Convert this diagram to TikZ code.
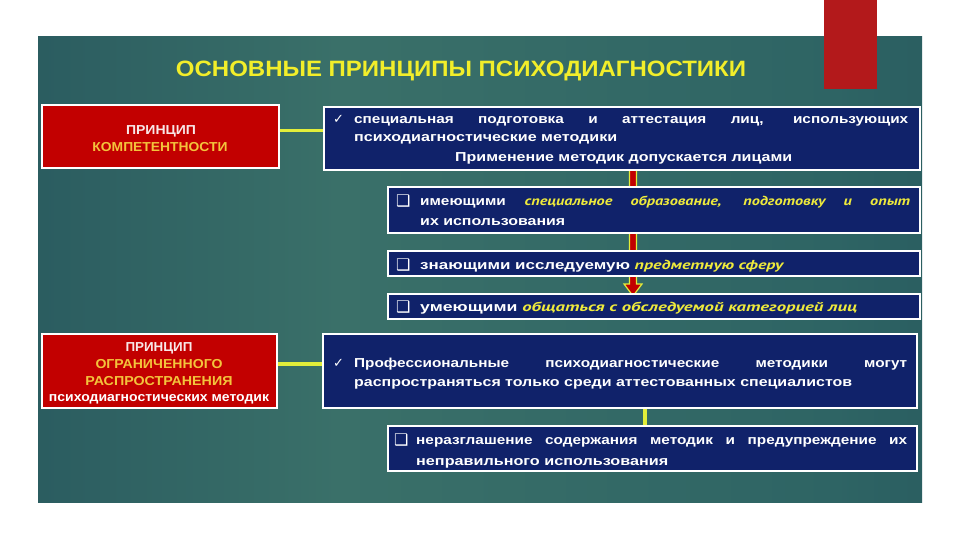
\documentclass[tikz,border=0pt]{standalone}
\usepackage{fontspec}
\setmainfont{Liberation Sans}
\newfontfamily\bodyf{Liberation Sans}[FakeStretch=1.18]
\newfontfamily\symf{DejaVu Sans}
\newfontfamily\ptit{PT Sans}[FakeStretch=1.25]
\usetikzlibrary{calc}
\definecolor{pA}{HTML}{1A4352}
\definecolor{pB}{HTML}{22515B}
\definecolor{pC}{HTML}{3A7069}
\definecolor{pD}{HTML}{2E6464}
\definecolor{navy}{HTML}{10226A}
\definecolor{redc}{HTML}{C20000}
\definecolor{barred}{HTML}{B3191B}
\definecolor{yconnc}{HTML}{E2EE3A}
\definecolor{titley}{HTML}{F2EE2A}
\definecolor{yit}{HTML}{EEEA3C}
\definecolor{orng}{HTML}{F3C43C}
\definecolor{pinkw}{HTML}{F8E8E8}
\pgfdeclarehorizontalshading{panelsh}{100bp}{color(0bp)=(pA); color(15bp)=(pB); color(42bp)=(pC); color(70bp)=(pD); color(100bp)=(pA)}
\pgfdeclarelayer{panel}
\pgfdeclarelayer{bg}
\pgfsetlayers{panel,bg,main}
\newcommand{\fitw}[2]{\resizebox{#1}{\height}{#2}}
\newcommand{\yi}[1]{\textcolor{yit}{\ptit\bfseries\itshape #1}}
\tikzset{
  bluebox/.style={draw=white, line width=1.8pt, fill=navy, inner sep=0pt, outer sep=0pt, anchor=north west},
  redbox/.style={draw=white, line width=1.8pt, fill=redc, inner sep=0pt, outer sep=0pt, anchor=north west},
  txt/.style={inner sep=0pt, text=white, font=\bodyf\fontsize{13}{15}\selectfont\bfseries, anchor=base west},
  rtxt/.style={inner sep=0pt, font=\fontsize{13}{15}\selectfont\bfseries, anchor=base},
  symb/.style={inner sep=0pt, text=white, font=\symf\fontsize{13}{15}\selectfont, anchor=base west},
  sqb/.style={inner sep=0pt, text=white, font=\symf\fontsize{16}{18}\selectfont, anchor=base west},
  yconn/.style={draw=yconnc, line width=3.5pt},
  arr/.style={fill=redc, draw=yconnc, line width=1.2pt, line join=miter}
}
\begin{document}
\begin{tikzpicture}[x=1pt,y=-1pt]
\useasboundingbox (0,0) rectangle (960,540);
\begin{pgfonlayer}{panel}
\fill[white] (0,0) rectangle (960,540);
\shade[shading=panelsh] (38,37) rectangle (922,502);
\end{pgfonlayer}
\fill[barred] (824,0) rectangle (877,89);
\node[inner sep=0pt, anchor=base, text=titley, font=\fontsize{22}{24}\selectfont\bfseries] (title) at (461,77)
  {\resizebox{570pt}{15.5pt}{ОСНОВНЫЕ ПРИНЦИПЫ ПСИХОДИАГНОСТИКИ}};
% boxes
\node[bluebox, minimum width=596pt, minimum height=63pt] (b1) at (324,107) {};
\node[bluebox, minimum width=532pt, minimum height=46pt] (b2) at (388,187) {};
\node[bluebox, minimum width=532pt, minimum height=25pt] (b3) at (388,251) {};
\node[bluebox, minimum width=532pt, minimum height=25pt] (b4) at (388,294) {};
\node[bluebox, minimum width=594pt, minimum height=74pt] (b5) at (323,334) {};
\node[bluebox, minimum width=529pt, minimum height=45pt] (b6) at (388,426) {};
\node[redbox, minimum width=237pt, minimum height=63pt] (r1) at (42,105) {};
\node[redbox, minimum width=235pt, minimum height=74pt] (r2) at (42,334) {};
% red box texts
\node[rtxt, text=pinkw] (r1a) at (161,135) {\fitw{70pt}{ПРИНЦИП}};
\node[rtxt, text=orng] (r1b) at (160,152) {\fitw{135pt}{КОМПЕТЕНТНОСТИ}};
\node[rtxt, text=pinkw] (r2a) at (159,351) {\fitw{67pt}{ПРИНЦИП}};
\node[rtxt, text=orng] (r2b) at (159,368) {\fitw{127pt}{ОГРАНИЧЕННОГО}};
\node[rtxt, text=orng] (r2c) at (159,385) {\fitw{147pt}{РАСПРОСТРАНЕНИЯ}};
\node[rtxt, text=white] (r2d) at (159,401) {\fitw{220pt}{психодиагностических методик}};
% box 1
\node[symb] (c1) at (333,124) {✓};
\node[txt] (t1a) at (354,124) {\makebox[554pt][s]{специальная подготовка и аттестация лиц, использующих}};
\node[txt] (t1b) at (354,142) {\fitw{263pt}{психодиагностические методики}};
\node[txt] (t1c) at (455,161) {\fitw{337pt}{Применение методик допускается лицами}};
% box 2
\node[sqb] (s2) at (396,206) {❑};
\node[txt] (t2a) at (420,205) {\makebox[490pt][s]{имеющими \yi{специальное образование, подготовку и опыт}}};
\node[txt] (t2b) at (420,225) {\fitw{145pt}{их использования}};
% box 3
\node[sqb] (s3) at (396,270) {❑};
\node[txt] (t3a) at (420,269) {\fitw{363pt}{знающими исследуемую \yi{предметную сферу}}};
% box 4
\node[sqb] (s4) at (396,312) {❑};
\node[txt] (t4a) at (420,311) {\fitw{437pt}{умеющими \yi{общаться с обследуемой категорией лиц}}};
% box 5
\node[symb] (c5) at (333,367) {✓};
\node[txt] (t5a) at (354,367) {\makebox[553pt][s]{Профессиональные психодиагностические методики могут}};
\node[txt] (t5b) at (354,386) {\fitw{498pt}{распространяться только среди аттестованных специалистов}};
% box 6
\node[sqb] (s6) at (394,445) {❑};
\node[txt] (t6a) at (416,444) {\makebox[491pt][s]{неразглашение содержания методик и предупреждение их}};
\node[txt] (t6b) at (416,465) {\fitw{252pt}{неправильного использования}};
% connectors
\coordinate (ax) at (633,0);
\coordinate (vx) at (645,0);
\begin{pgfonlayer}{bg}
\coordinate (atop) at (b1.south -| ax);
\coordinate (atip) at ($(b4.north -| ax)+(0,2)$);
\draw[arr] ($(atop)+(-3.5,-6)$) -- ($(atip)+(-3.5,-12)$) -- ($(atip)+(-9,-12)$) -- (atip)
  -- ($(atip)+(9,-12)$) -- ($(atip)+(3.5,-12)$) -- ($(atop)+(3.5,-6)$) -- cycle;
\draw[yconn] ([yshift=6pt]r1.east) -- ([yshift=6pt]r1.east -| b1.west);
\draw[yconn] ([yshift=7pt]r2.east) -- ([yshift=7pt]r2.east -| b5.west);
\draw[yconn] (b5.south -| vx) -- (b6.north -| vx);
\end{pgfonlayer}
\end{tikzpicture}
\end{document}
